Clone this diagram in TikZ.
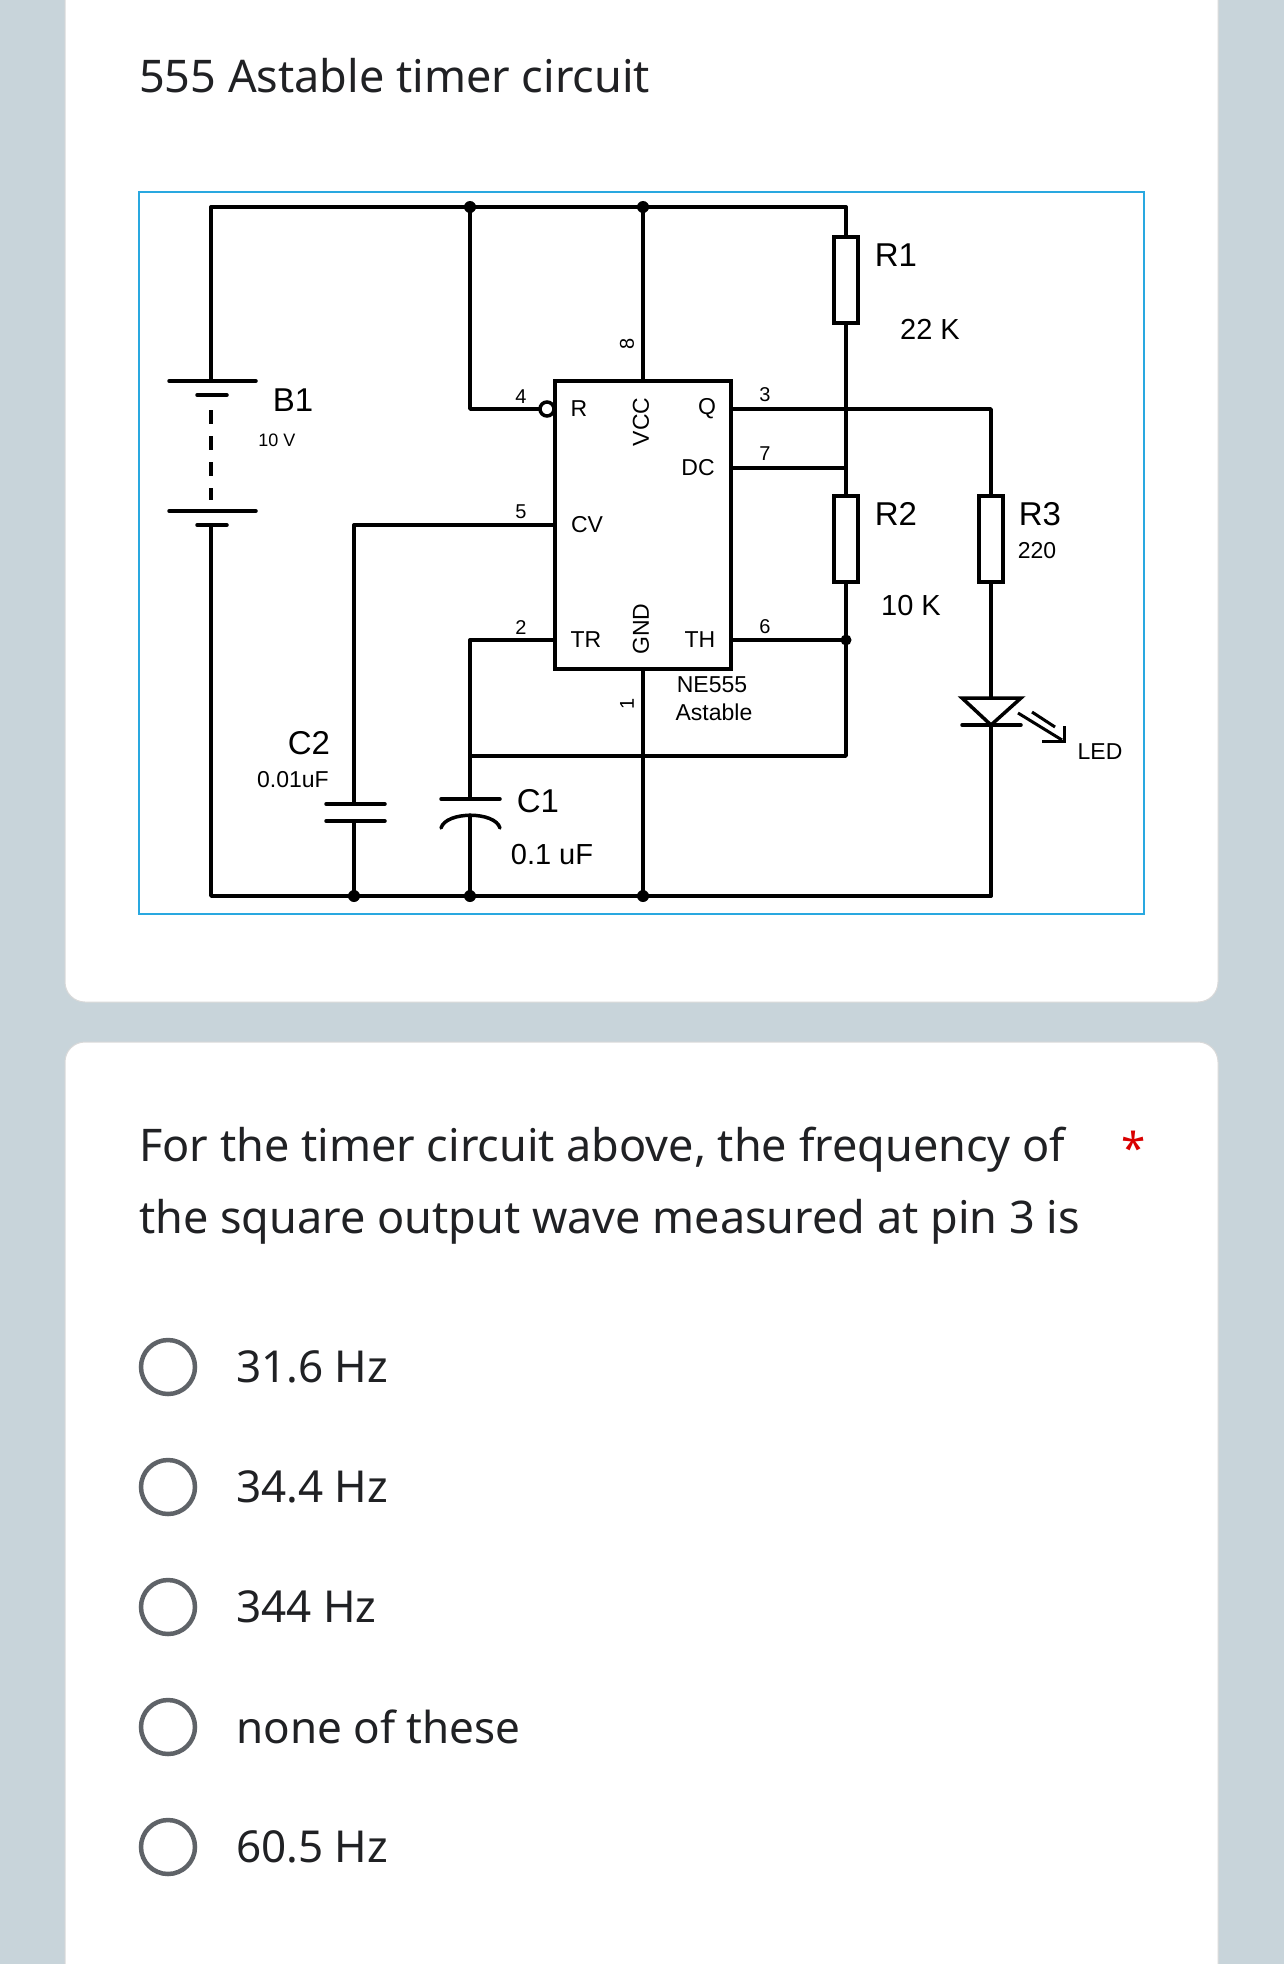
\documentclass[tikz,border=0pt]{standalone}
\usepackage{fontspec}
\setmainfont{Liberation Sans}
\newfontfamily\uifont{Noto Sans}
\definecolor{pagebg}{RGB}{200,212,218}
\definecolor{framec}{RGB}{41,168,224}
\definecolor{radioc}{RGB}{95,99,104}
\definecolor{uitext}{RGB}{32,33,36}
\begin{document}
\begin{tikzpicture}[x=1pt,y=-1pt,
  wire/.style={line width=3.5pt,line cap=round,line join=round},
  lbl/.style={inner sep=0pt,anchor=center},
  fa/.style={lbl,font=\fontsize{33}{33}\selectfont},
  fb/.style={lbl,font=\fontsize{29}{29}\selectfont},
  fc/.style={lbl,font=\fontsize{23}{23}\selectfont},
  fd/.style={lbl,font=\fontsize{20}{20}\selectfont},
  dotj/.style={circle,fill=black,inner sep=0pt,minimum size=12pt},
  res/.style={draw,line width=3.5pt,fill=white,minimum width=24pt,minimum height=86pt,inner sep=0pt},
  radio/.style={circle,draw=radioc,line width=4.5pt,minimum size=54pt,inner sep=0pt},
  opt/.style={inner sep=0pt,anchor=west,font=\uifont\fontsize{44}{44}\selectfont,text=uitext},
  q/.style={inner sep=0pt,anchor=west,font=\uifont\fontsize{45}{45}\selectfont,text=uitext}]
\useasboundingbox (0,0) rectangle (1284,1964);
\fill[pagebg] (0,0) rectangle (1284,1964);
\fill[white,draw=gray!30,line width=1pt,rounded corners=20pt] (65,-30) rectangle (1218,1002);
\fill[white,draw=gray!30,line width=1pt,rounded corners=20pt] (65,1042) rectangle (1218,2010);
\node[q] (title) at (139,76) {555 Astable timer circuit};
\draw[line width=2pt,draw=framec] (139,192) rectangle (1144,914);
% coordinates
\coordinate (TL) at (211,207); \coordinate (J1) at (470,207); \coordinate (J2) at (643,207); \coordinate (TR1) at (846,207);
\coordinate (BL) at (211,896); \coordinate (B2) at (354,896); \coordinate (B3) at (470,896); \coordinate (B4) at (643,896); \coordinate (BR) at (991,896);
% battery
\draw[wire] (TL) -- (211,381);
\draw[wire] (169,381) -- (256,381); \draw[wire] (197,395) -- (227,395);
\draw[line width=3.5pt,dash pattern=on 14pt off 12pt] (211,410) -- (211,500);
\draw[wire] (169,511) -- (256,511); \draw[wire] (197,525) -- (227,525);
\draw[wire] (211,525) -- (BL) -- (BR);
\draw[wire] (TL) -- (TR1);
% IC
\node[draw,line width=3.5pt,minimum width=176pt,minimum height=288pt,inner sep=0pt] (ic) at (643,525) {};
\draw[wire] (J1) -- (470,409) -- (539,409);
\draw[line width=3.5pt,fill=white] (547,409) circle (7pt);
\draw[wire] (J2) -- (ic.north);
\draw[wire] (354,525) -- (555,525);
\draw[wire] (354,525) -- (354,804); \draw[wire] (326,804) -- (385,804); \draw[wire] (326,821) -- (385,821); \draw[wire] (354,821) -- (B2);
\draw[wire] (470,640) -- (555,640);
\draw[wire] (470,640) -- (470,799); \draw[wire] (441,799) -- (500,799);
\draw[wire] (441,828) .. controls (446,811) and (495,811) .. (500,828);
\draw[wire] (470,815) -- (B3);
\draw[wire] (470,756) -- (846,756) -- (846,640);
\draw[wire] (ic.south) -- (B4);
% right side
\node[res] (r1) at (846,280) {};
\node[res] (r2) at (846,539) {};
\node[res] (r3) at (991,539) {};
\draw[wire] (TR1) -- (r1.north);
\draw[wire] (r1.south) -- (r2.north);
\draw[wire] (r2.south) -- (846,640);
\draw[wire] (731,409) -- (991,409) -- (r3.north);
\draw[wire] (731,468) -- (846,468);
\draw[wire] (731,640) -- (846,640);
\draw[wire] (r3.south) -- (991,698);
\draw[line width=3.5pt,line join=miter] (962,698) -- (1021,698) -- (991,725) -- cycle;
\draw[wire] (962,725) -- (1021,725);
\draw[wire] (991,725) -- (BR);
\draw[line width=3pt] (1018,713) -- (1062,740); \draw[line width=3pt] (1042,741)--(1064,741)--(1064,726);
\draw[line width=3pt] (1032,712) -- (1055,727);
% dots
\foreach \p in {J1,J2,B2,B3,B4} \node[dotj] at (\p) {};
\node[dotj,minimum size=11pt] at (846,640) {};
% labels
\node[fa] at (293,400) {B1};
\node[lbl,font=\fontsize{18}{18}\selectfont] at (277,440) {10 V};
\node[fd] at (521,397) {4};
\node[fd] at (521,512) {5};
\node[fd] at (521,628) {2};
\node[fd,rotate=90] at (627,344) {8};
\node[fd,rotate=90] at (627,704) {1};
\node[fd] at (765,395) {3};
\node[fd] at (765,454) {7};
\node[fd] at (765,627) {6};
\node[fc] at (579,409) {R};
\node[fc,rotate=90] at (641,422) {VCC};
\node[fc] at (587,525) {CV};
\node[fc] at (586,640) {TR};
\node[fc,rotate=90] at (641,629) {GND};
\node[fc] at (707,409) {Q};
\node[fc] at (698,468) {DC};
\node[fc] at (700,640) {TH};
\node[fc] at (712,685) {NE555};
\node[fc] at (714,712) {Astable};
\node[fa] at (896,255) {R1};
\node[fb] at (930,329) {22 K};
\node[fa] at (896,514) {R2};
\node[fb] at (911,606) {10 K};
\node[fa] at (1040,514) {R3};
\node[fc] at (1037,551) {220};
\node[fc] at (1100,752) {LED};
\node[fa] at (309,743) {C2};
\node[fc] at (293,780) {0.01uF};
\node[fa] at (538,801) {C1};
\node[fb] at (552,855) {0.1 uF};
% question
\node[q] (q1) at (139,1150) {For the timer circuit above, the frequency of};
\node[q] (q2) at (139,1222) {the square output wave measured at pin 3 is};
\node[lbl,font=\uifont\fontsize{44}{44}\selectfont,text=red!85!black] at (1134,1148) {*};
\foreach \y/\t [count=\i] in {1367/31.6 Hz,1487/34.4 Hz,1607/344 Hz,1727/none of these,1847/60.5 Hz}{
  \node[radio] (rb\i) at (168,\y) {};
  \node[opt] (ot\i) at (236,\y) {\t};
}
\end{tikzpicture}
\end{document}
